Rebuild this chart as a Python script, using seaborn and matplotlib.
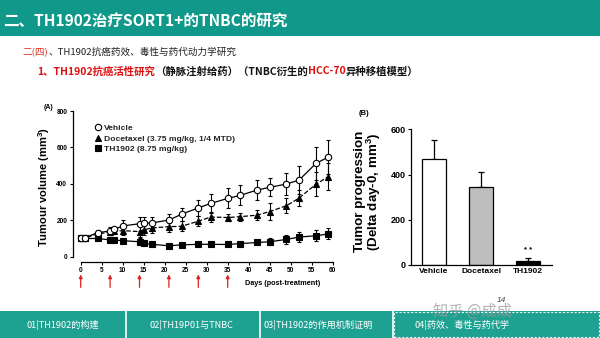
import numpy as np
import pandas as pd
import seaborn as sns
import matplotlib
matplotlib.use("Agg")
import matplotlib.pyplot as plt
from matplotlib.patches import Rectangle
from matplotlib.lines import Line2D

# ---------------- data ----------------
days = [0, 1, 4, 7, 8, 10, 14, 15, 17, 21, 24, 28, 31, 35, 38, 42, 45, 49, 52, 56, 59]
vehicle = [100, 104, 132, 141, 150, 169, 181, 183, 186, 201, 233, 268, 293, 320, 337, 366, 381, 399, 421, 512, 548]
vehicle_err = [6, 8, 15, 22, 15, 35, 38, 35, 30, 33, 35, 45, 52, 55, 55, 55, 50, 60, 75, 90, 95]
docetaxel = [100, 103, 125, 135, 140, 143, 138, 148, 158, 165, 167, 195, 218, 215, 220, 228, 248, 280, 322, 398, 440]
docetaxel_err = [6, 8, 12, 15, 18, 25, 28, 30, 27, 27, 27, 28, 28, 20, 22, 28, 45, 40, 45, 65, 75]
th1902 = [100, 100, 100, 92, 91, 88, 82, 73, 68, 60, 65, 68, 68, 67, 72, 78, 82, 95, 108, 115, 125]
th1902_err = [5, 5, 8, 10, 10, 10, 20, 10, 8, 8, 10, 10, 8, 8, 8, 10, 20, 25, 25, 30, 30]
series_names = ["Vehicle", "Docetaxel (3.75 mg/kg, 1/4 MTD)", "TH1902 (8.75 mg/kg)"]
dose_days = [0, 7, 14, 21, 28, 35]
xticks_a = [0, 5, 10, 15, 20, 25, 30, 35, 40, 45, 50, 55, 60]
yticks_a = [0, 200, 400, 600, 800]

bar_groups = ["Vehicle", "Docetaxel", "TH1902"]
bar_values = [467, 343, 19]
bar_err = [86, 68, 13]
yticks_b = [0, 200, 400, 600]

title_text = "二、TH1902治疗SORT1+的TNBC的研究"
sub1_pieces = [("二(四)", "#e03020"), ("、TH1902抗癌药效、毒性与药代动力学研究", "#222222")]
sub2_pieces = [("1、TH1902抗癌活性研究", "#e01010"), ("（静脉注射给药）（TNBC衍生的", "#111111"),
               ("HCC-70", "#e01010"), ("异种移植模型）", "#111111")]
nav_labels = ["01|TH1902的构建", "02|TH19P01与TNBC", "03|TH1902的作用机制证明", "04|药效、毒性与药代学"]

# ---------------- style ----------------
sns.set_theme(style="ticks")
plt.rcParams["font.family"] = ["Liberation Sans", "DejaVu Sans"]
plt.rcParams["mathtext.fontset"] = "custom"
plt.rcParams["mathtext.rm"] = "Liberation Sans:bold"
plt.rcParams["mathtext.bf"] = "Liberation Sans:bold"
plt.rcParams["mathtext.default"] = "bf"
CJK = ["Noto Sans CJK SC", "DejaVu Sans"]

W, H = 600, 338
fig = plt.figure(figsize=(6, 3.38), dpi=100)
fig.patch.set_facecolor("white")

def fx(px):
    return px / W

def fy(py):
    return 1 - py / H

# top banner
fig.patches.append(Rectangle((0, fy(35.5)), 1, 35.5 / H, transform=fig.transFigure,
                             facecolor="#10998a", edgecolor="none", zorder=0))
fig.text(fx(3), fy(20.5), title_text, color="white", fontsize=11.2, fontweight="bold",
         family=CJK, va="center", ha="left")

renderer = fig.canvas.get_renderer()

def seq_text(x_px, y_px, pieces, size, weight):
    x = x_px
    for s, c in pieces:
        t = fig.text(fx(x), fy(y_px), s, color=c, fontsize=size, fontweight=weight,
                     family=CJK, va="center", ha="left")
        bb = t.get_window_extent(renderer)
        x += bb.width

seq_text(22.5, 52.5, sub1_pieces, 6.9, "normal")
seq_text(37, 71.5, sub2_pieces, 7.5, "bold")

# bottom navigation bar
fig.patches.append(Rectangle((0, 0), 1, (H - 310.7) / H, transform=fig.transFigure,
                             facecolor="#1fa192", edgecolor="none", zorder=0))
for xs in [126, 260, 393]:
    fig.lines.append(Line2D([fx(xs), fx(xs)], [0, fy(310.7)], transform=fig.transFigure,
                            color="white", lw=1.2))
fig.patches.append(Rectangle((fx(394), fy(337)), fx(205), (337 - 311.5) / H,
                             transform=fig.transFigure, facecolor="none",
                             edgecolor="#e8f5f2", lw=0.8, ls=(0, (2, 1.5))))
for lab, xc in zip(nav_labels, [62.5, 191, 318, 462]):
    fig.text(fx(xc), fy(324.5), lab, color="white", fontsize=6.6, family=CJK,
             va="center", ha="center")
fig.text(fx(497), fy(300), "14", color="#444444", fontsize=6, style="italic",
         va="center", ha="left")
fig.text(fx(472), fy(311), "知乎 @成成", color="#9a9a9a", alpha=0.75, fontsize=11,
         family=CJK, va="center", ha="center")

# ---------------- panel A ----------------
axA = fig.add_axes([0.1212, 0.2260, 0.4403, 0.4482])
dfA = pd.DataFrame({"day": days * 3,
                    "vol": vehicle + docetaxel + th1902,
                    "group": [series_names[0]] * len(days) + [series_names[1]] * len(days)
                             + [series_names[2]] * len(days)})
styles = {
    series_names[0]: dict(marker="o", mfc="white", ls="-", ms=4.6, err=vehicle_err),
    series_names[1]: dict(marker="^", mfc="black", ls="--", ms=4.2, err=docetaxel_err),
    series_names[2]: dict(marker="s", mfc="black", ls="-", ms=4.2, err=th1902_err),
}
for name in [series_names[2], series_names[1], series_names[0]]:
    st = styles[name]
    sub = dfA[dfA["group"] == name]
    axA.errorbar(sub["day"], sub["vol"], yerr=st["err"], fmt="none", ecolor="black",
                 elinewidth=0.8, capsize=1.6, capthick=0.8, zorder=2)
    sns.lineplot(data=sub, x="day", y="vol", ax=axA, color="black", lw=0.9,
                 linestyle=st["ls"], marker=st["marker"], markersize=st["ms"],
                 markerfacecolor=st["mfc"], markeredgecolor="black", markeredgewidth=0.8,
                 zorder=3, legend=False)

axA.set_xlim(-1.9, 61)
axA.set_ylim(-27, 805)
axA.set_xticks(xticks_a)
axA.set_yticks(yticks_a)
axA.spines["left"].set_bounds(0, 800)
axA.spines["bottom"].set_bounds(0, 60)
for s in ["top", "right"]:
    axA.spines[s].set_visible(False)
for s in ["left", "bottom"]:
    axA.spines[s].set_linewidth(0.9)
    axA.spines[s].set_color("black")
axA.tick_params(axis="both", length=2.5, width=0.8, pad=1.5, labelsize=4.7, colors="black")
for lab in axA.get_xticklabels() + axA.get_yticklabels():
    lab.set_fontweight("bold")
axA.set_xlabel("")
axA.set_ylabel("Tumour volume (mm$^3$)", fontsize=8, fontweight="bold", color="black")
axA.yaxis.set_label_coords(-0.078, 0.49)
axA.text(0.936, -0.145, "Days (post-treatment)", transform=axA.transAxes, fontsize=5.2,
         fontweight="bold", ha="right", va="center", color="black")
axA.text(-0.093, 1.014, "(A)", transform=axA.transAxes, fontsize=5, fontweight="bold",
         ha="center", va="center", color="black")
for d in dose_days:
    axA.annotate("", xy=(d, -0.085), xycoords=("data", "axes fraction"),
                 xytext=(d, -0.17), textcoords=("data", "axes fraction"),
                 arrowprops=dict(arrowstyle="-|>", color="#e02020", lw=0.9,
                                 mutation_scale=5, shrinkA=0, shrinkB=0),
                 annotation_clip=False)

handles = [Line2D([], [], ls="none", marker=styles[n]["marker"], mfc=styles[n]["mfc"],
                  mec="black", mew=0.8, ms=styles[n]["ms"]) for n in series_names]
leg = axA.legend(handles, series_names, loc="upper left", bbox_to_anchor=(0.072, 0.93),
                 frameon=False, handlelength=0.6, handletextpad=0.4, labelspacing=0.3,
                 borderaxespad=0, prop={"size": 6.1, "weight": "bold"})

# ---------------- panel B ----------------
axB = fig.add_axes([0.685, 0.2160, 0.235, 0.4048])
dfB = pd.DataFrame({"group": bar_groups, "val": bar_values})
sns.barplot(data=dfB, x="group", y="val", hue="group", ax=axB,
            palette=["white", "#bdbdbd", "black"], edgecolor="black", linewidth=0.9,
            width=0.51, legend=False, zorder=2)
axB.errorbar([0, 1, 2], bar_values, yerr=[[0, 0, 0], bar_err], fmt="none", ecolor="black",
             elinewidth=0.9, capsize=2.3, capthick=0.9, zorder=1)
axB.set_xlim(-0.49, 2.51)
axB.set_ylim(0, 605)
axB.set_yticks(yticks_b)
axB.spines["left"].set_bounds(0, 600)
for s in ["top", "right"]:
    axB.spines[s].set_visible(False)
for s in ["left", "bottom"]:
    axB.spines[s].set_linewidth(0.9)
    axB.spines[s].set_color("black")
axB.tick_params(axis="y", length=2.5, width=0.8, pad=1.5, labelsize=6.5, colors="black")
axB.tick_params(axis="x", length=0, pad=2, labelsize=6, colors="black")
for lab in axB.get_xticklabels() + axB.get_yticklabels():
    lab.set_fontweight("bold")
axB.set_xlabel("")
axB.set_ylabel("Tumor progression\n(Delta day-0, mm$^3$)", fontsize=9.6, fontweight="bold",
               color="black", linespacing=0.9)
axB.yaxis.set_label_coords(-0.2, 0.537)
axB.text(2, 62, "* *", ha="center", va="center", fontsize=5.5, fontweight="bold", color="black")
axB.text(-0.33, 1.11, "(B)", transform=axB.transAxes, fontsize=5.5, fontweight="bold",
         ha="center", va="center", color="black")

fig.savefig("out.png", dpi=100, facecolor="white")
